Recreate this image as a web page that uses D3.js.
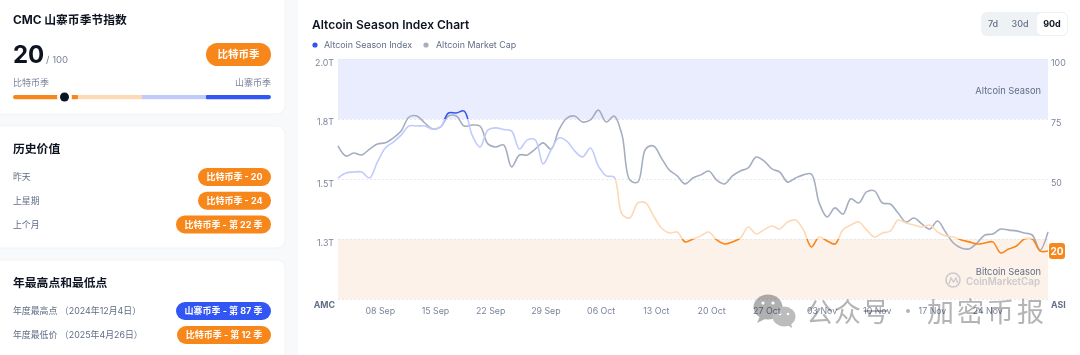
<!DOCTYPE html>
<html><head><meta charset="utf-8">
<script src="https://cdn.jsdelivr.net/npm/d3@7/dist/d3.min.js"></script>
<style>html,body{margin:0;padding:0;background:#f8f9fa;overflow:hidden}svg{display:block}text{font-family:Inter,"Noto Sans CJK SC",sans-serif}</style>
</head><body><svg id="c" width="1080" height="355"></svg>
<script>
const startDate = "2025-09-02T17:00:00Z";
const endDate = "2025-12-01T17:00:00Z";
const indexValues = [50.4,52.5,52.9,52.9,50.4,57.1,62.9,65.4,68.3,72.1,72.1,72.1,70.8,71.7,77.5,77.5,78.3,68.3,63.3,70.4,71.3,70.6,70,62.5,66.3,66.3,56.3,62.1,67.1,65.8,61.7,59.2,62.9,55.4,51.3,50.8,35.4,33.8,40,40,34.6,29.6,27.5,27.9,23.8,25,26.3,27.9,24.6,22.9,23.8,25.4,30,27.1,28.8,30.4,29.2,32.1,32.9,28.8,21.7,25.8,24.2,22.9,28.8,30.8,32.1,28.8,25.8,27.5,28.3,32.9,31.7,30.8,30,30.8,27.9,26.3,25.8,24.6,23.8,22.9,23.3,23.8,19.2,20.8,22.1,25,25,20,20];
const capValues = [1.663,1.624,1.636,1.628,1.651,1.671,1.675,1.694,1.721,1.775,1.779,1.752,1.729,1.737,1.779,1.779,1.740,1.744,1.740,1.671,1.659,1.667,1.582,1.628,1.628,1.651,1.675,1.651,1.725,1.771,1.779,1.756,1.764,1.802,1.756,1.779,1.706,1.531,1.523,1.651,1.663,1.616,1.570,1.547,1.516,1.539,1.551,1.566,1.531,1.516,1.547,1.566,1.578,1.620,1.605,1.574,1.562,1.523,1.539,1.551,1.554,1.442,1.388,1.423,1.399,1.458,1.442,1.485,1.489,1.442,1.438,1.403,1.368,1.384,1.361,1.341,1.372,1.330,1.287,1.268,1.264,1.287,1.318,1.322,1.341,1.337,1.334,1.326,1.318,1.260,1.330];
const capTicks = [2.0,1.77,1.53,1.3];
const capTickLabels = ["2.0T","1.8T","1.5T","1.3T"];
const indexTicks = [100,75,50];
const dateTicks = ["2025-09-08","2025-09-15","2025-09-22","2025-09-29","2025-10-06","2025-10-13","2025-10-20","2025-10-27","2025-11-03","2025-11-10","2025-11-17","2025-11-24"];
const historyRows = [["昨天","比特币季 - 20"],["上星期","比特币季 - 24"],["上个月","比特币季 - 第 22 季"]];
const yearRows = [["年度最高点 （2024年12月4日）","山寨币季 - 第 87 季","#3156f3"],["年度最低价 （2025年4月26日）","比特币季 - 第 12 季","#f7861b"]];

const ORANGE="#f7861b",BLUE="#3156f3",LBLUE="#c1cbfb",LORANGE="#fdd9b5",DARK="#0d1421",GREY="#616e85",AX="#7a849b";
const svg=d3.select("#c");
const T=(sel,x,y,s,size,fill,opts={})=>sel.append("text").attr("x",x).attr("y",y).text(s)
  .attr("font-size",size).attr("fill",fill).attr("font-weight",opts.w||400).attr("text-anchor",opts.a||"start");

// cards
[[-12,-12,297,126],[-12,126,297,122],[-12,260,297,110]].forEach(c=>
  svg.append("rect").attr("x",c[0]).attr("y",c[1]).attr("width",c[2]).attr("height",c[3]).attr("rx",8).attr("fill","#fff").attr("stroke","#f1f3f7").attr("stroke-width",1));
svg.append("rect").attr("x",298).attr("y",-10).attr("width",800).attr("height",380).attr("rx",8).attr("fill","#fff");

const pill=(xl,xr,yc,h,fill,s,size,w)=>{
  svg.append("rect").attr("x",xl).attr("y",yc-h/2).attr("width",xr-xl).attr("height",h).attr("rx",h/2).attr("fill",fill);
  T(svg,(xl+xr)/2,yc+size*0.36,s,size,"#fff",{a:"middle",w:w||700});
};
// card 1
T(svg,13,24,"CMC 山寨币季节指数",11.8,DARK,{w:700});
T(svg,13,63,"20",24,DARK,{w:700});
T(svg,46,63,"/ 100",9.6,"#7a849b");
pill(206,271,54.5,23,ORANGE,"比特币季",10.5,600);
T(svg,13,85.5,"比特币季",9,AX);
T(svg,271,85.5,"山寨币季",9,AX,{a:"end"});
const gauge=[[78,142,LORANGE],[142,206,LBLUE]];
svg.append("rect").attr("x",13).attr("y",95).attr("width",66).attr("height",4.2).attr("rx",2.1).attr("fill",ORANGE);
svg.append("rect").attr("x",205).attr("y",95).attr("width",66).attr("height",4.2).attr("rx",2.1).attr("fill",BLUE);
gauge.forEach(g=>svg.append("rect").attr("x",g[0]).attr("y",95).attr("width",g[1]-g[0]).attr("height",4.2).attr("fill",g[2]));
svg.append("circle").attr("cx",64.5).attr("cy",97).attr("r",7.5).attr("fill","#fff");
svg.append("circle").attr("cx",64.5).attr("cy",97).attr("r",4.5).attr("fill",DARK);
// card 2
T(svg,13,152.5,"历史价值",11.8,DARK,{w:700});
const hLeft=[198,198,176];
historyRows.forEach((r,i)=>{const y=177+i*23.7;
  T(svg,13,y+3.3,r[0],8.9,GREY);
  pill(hLeft[i],271,y,18,ORANGE,r[1],9);});
// card 3
T(svg,13,286.5,"年最高点和最低点",11.8,DARK,{w:700});
const yLeft=[176,177];
yearRows.forEach((r,i)=>{const y=311+i*24;
  T(svg,13,y+3.3,r[0],8.9,GREY);
  pill(yLeft[i],271,y,18,r[2],r[1],9);});

// header
T(svg,312,28.5,"Altcoin Season Index Chart",12,DARK,{w:600});
svg.append("circle").attr("cx",315).attr("cy",45).attr("r",2.6).attr("fill",BLUE);
T(svg,324,48.2,"Altcoin Season Index",8.9,GREY);
svg.append("circle").attr("cx",426).attr("cy",45).attr("r",2.6).attr("fill","#a6aebf");
T(svg,436,48.2,"Altcoin Market Cap",8.9,GREY);
svg.append("rect").attr("x",981).attr("y",12).attr("width",87).attr("height",24).attr("rx",6).attr("fill","#eff2f5");
svg.append("rect").attr("x",1037).attr("y",13).attr("width",30).attr("height",22).attr("rx",5).attr("fill","#fff");
T(svg,993,27,"7d",9,GREY,{a:"middle",w:500});
T(svg,1020,27,"30d",9,GREY,{a:"middle",w:500});
T(svg,1052,27,"90d",9,DARK,{a:"middle",w:700});

// scales
const L=338,R=1048,Tp=59,B=299;
const x=d3.scaleUtc().domain([new Date(startDate),new Date(endDate)]).range([L,R]);
const yI=d3.scaleLinear().domain([0,100]).range([B,Tp]);
const yC=d3.scaleLinear().domain([1.07,2.0]).range([B,Tp]);
const dates=indexValues.map((_,i)=>d3.utcDay.offset(new Date(startDate),i));

// bands
svg.append("rect").attr("x",L).attr("y",yI(100)).attr("width",R-L).attr("height",yI(75)-yI(100)).attr("fill","#e9edfd");
svg.append("rect").attr("x",L).attr("y",yI(25)).attr("width",R-L).attr("height",yI(0)-yI(25)).attr("fill","#fdf2e9");
[100,75,50,25,0].forEach(v=>svg.append("line").attr("x1",L).attr("x2",R).attr("y1",yI(v)+.5).attr("y2",yI(v)+.5)
  .attr("stroke","#e6e9f0").attr("stroke-dasharray","2 2"));
T(svg,1041,93.5,"Altcoin Season",9.3,GREY,{a:"end"});
T(svg,1041,274.5,"Bitcoin Season",9.3,GREY,{a:"end"});

// axes
const axL=d3.axisLeft(yC).tickValues(capTicks).tickFormat((d,i)=>capTickLabels[i]).tickSize(0).tickPadding(4);
const axR=d3.axisRight(yI).tickValues(indexTicks).tickSize(0).tickPadding(3);
const axB=d3.axisBottom(x).tickValues(dateTicks.map(d=>new Date(d+"T00:00:00Z"))).tickFormat(d3.utcFormat("%d %b")).tickSize(0).tickPadding(4);
const style=g=>{g.select(".domain").remove();g.selectAll("text").attr("fill",AX).attr("font-size",8.8).style("font-family",'Inter,sans-serif');};
svg.append("g").attr("transform",`translate(${L},3.5)`).call(axL).call(style);
svg.append("g").attr("transform",`translate(${R},3.5)`).call(axR).call(style);
svg.append("g").attr("transform",`translate(0,${B+5})`).call(axB).call(style);
T(svg,335,307.5,"AMC",8.8,GREY,{a:"end",w:700});
T(svg,1051,307.5,"ASI",8.8,GREY,{w:700});

// lines
const defs=svg.append("defs");
const grad=defs.append("linearGradient").attr("id","zone").attr("gradientUnits","userSpaceOnUse")
  .attr("x1",0).attr("x2",0).attr("y1",yI(100)).attr("y2",yI(0));
[[100,BLUE],[75,BLUE],[75,LBLUE],[50,LBLUE],[50,LORANGE],[25,LORANGE],[25,ORANGE],[0,ORANGE]].forEach(s=>
  grad.append("stop").attr("offset",(100-s[0])/100).attr("stop-color",s[1]));
const capLine=d3.line().x((d,i)=>x(dates[i])).y(d=>yC(d)).curve(d3.curveCatmullRom.alpha(0.5));
const idxLine=d3.line().x((d,i)=>x(dates[i])).y(d=>yI(d)).curve(d3.curveCatmullRom.alpha(0.5));
svg.append("path").datum(capValues).attr("d",capLine).attr("fill","none").attr("stroke","#a5aec0").attr("stroke-width",1.6);
svg.append("path").datum(indexValues).attr("d",idxLine).attr("fill","none").attr("stroke","url(#zone)").attr("stroke-width",1.6);

// current badge
const last=indexValues[indexValues.length-1];
svg.append("rect").attr("x",1049).attr("y",yI(last)-8).attr("width",16).attr("height",16).attr("rx",3).attr("fill",ORANGE);
T(svg,1057,yI(last)+3.5,String(last),10,"#fff",{a:"middle",w:700});

// CMC watermark
const wm=svg.append("g").attr("opacity",.5);
wm.append("circle").attr("cx",953).attr("cy",280).attr("r",7).attr("fill","none").attr("stroke","#98a1b3").attr("stroke-width",1.6);
wm.append("path").attr("d","M949 284l2-6 2.5 4 2.5-4 1.5 5").attr("fill","none").attr("stroke","#98a1b3").attr("stroke-width",1.3);
T(wm,966,285,"CoinMarketCap",9.8,"#98a1b3",{w:600});

// reposted-article watermark, blended so the date labels show through
const om=svg.append("g").style("mix-blend-mode","multiply");
om.append("ellipse").attr("cx",768).attr("cy",307).attr("rx",14.5).attr("ry",12.5).attr("fill","#b0b0b0");
om.append("path").attr("d","M760 316l-3 7 8-4z").attr("fill","#b0b0b0");
om.append("ellipse").attr("cx",784).attr("cy",316.5).attr("rx",11.5).attr("ry",10).attr("fill","#bcbcbc");
om.append("path").attr("d","M787 325l5 3-1-6z").attr("fill","#bcbcbc");
[[763,303,1.6],[773,303,1.6],[780,314,1.3],[788,314,1.3]].forEach(e=>om.append("circle").attr("cx",e[0]).attr("cy",e[1]).attr("r",e[2]).attr("fill","#fff"));
T(om,806,322,"公众号",27,"#b4b4b4").attr("letter-spacing",1);
om.append("circle").attr("cx",908).attr("cy",311).attr("r",2).attr("fill","#b4b4b4");
T(om,927,322,"加密币报",27,"#b4b4b4").attr("letter-spacing",3);
</script></body></html>
